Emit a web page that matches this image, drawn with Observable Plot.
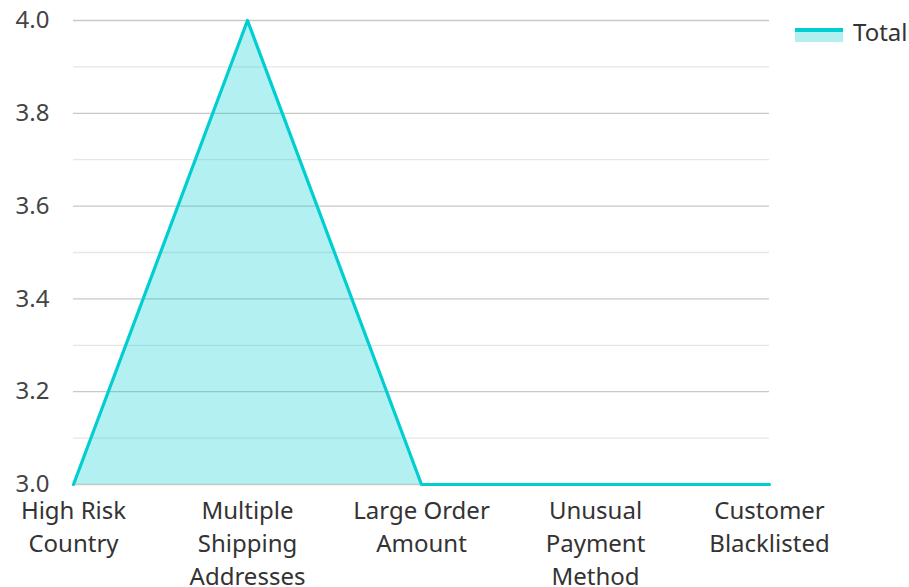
<!DOCTYPE html>
<html><head><meta charset="utf-8">
<script src="https://cdn.jsdelivr.net/npm/d3@7"></script>
<script src="https://cdn.jsdelivr.net/npm/@observablehq/plot@0.6"></script>
<style>
body{margin:0;background:#fff;font-family:"Noto Sans",sans-serif;}
#wrap{position:relative;width:909px;height:587px;overflow:hidden;}
#legend{position:absolute;left:795px;top:15px;display:flex;align-items:center;font-size:24px;color:#333;}
#legend .sw{width:48px;height:14px;background:#b2eff0;border-top:4px solid #00CED1;box-sizing:border-box;margin-right:10px;margin-top:6px}
</style></head><body>
<div id="wrap"><div id="legend"><div class="sw"></div><span>Total</span></div></div>
<script>
const categories = ["High Risk Country","Multiple Shipping Addresses","Large Order Amount","Unusual Payment Method","Customer Blacklisted"];
const labels = ["High Risk\nCountry","Multiple\nShipping\nAddresses","Large Order\nAmount","Unusual\nPayment\nMethod","Customer\nBlacklisted"];
const totals = [3, 4, 3, 3, 3];
const majorTicks = [3.0,3.2,3.4,3.6,3.8,4.0];
const minorTicks = [3.1,3.3,3.5,3.7,3.9];
const data = categories.map((c,i)=>({c, v: totals[i]}));
const labelOf = new Map(categories.map((c,i)=>[c, labels[i]]));
const chart = Plot.plot({
  width: 909, height: 587,
  marginLeft: 73, marginRight: 140, marginTop: 20, marginBottom: 103,
  style: {fontFamily: "Noto Sans", fontSize: "24px", color: "#333", background: "#fff", overflow: "visible"},
  x: {type: "point", domain: categories, padding: 0},
  y: {domain: [3, 4]},
  marks: [
    Plot.ruleY(minorTicks, {stroke: "#e6e6e6", strokeWidth: 1.3}),
    Plot.ruleY(majorTicks, {stroke: "#c8c8c8", strokeWidth: 1.3}),
    Plot.areaY(data, {x: "c", y1: 3, y2: "v", fill: "#00CED1", fillOpacity: 0.3}),
    Plot.lineY(data, {x: "c", y: "v", stroke: "#00CED1", strokeWidth: 3.2}),
    Plot.axisY({ticks: majorTicks, tickFormat: d3.format(".1f"), tickSize: 0, tickPadding: 24, fontSize: 24, fill: "#444", label: null}),
    Plot.axisX({tickSize: 0, tickPadding: 11, fontSize: 24, lineHeight: 1.37, fill: "#333", tickFormat: d => labelOf.get(d), label: null})
  ]
});
document.getElementById("wrap").prepend(chart);
</script>
</body></html>
